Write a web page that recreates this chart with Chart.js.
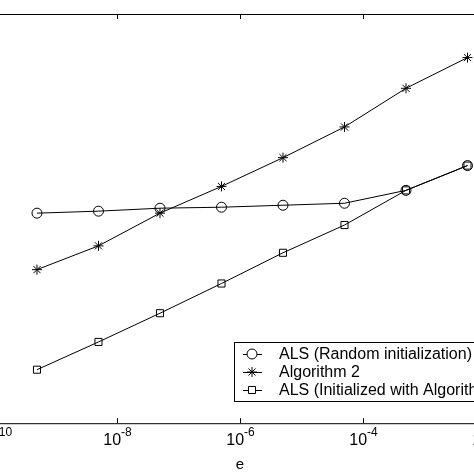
<!DOCTYPE html>
<html><head><meta charset="utf-8">
<script src="https://cdn.jsdelivr.net/npm/chart.js@4"></script>
<style>html,body{margin:0;padding:0;overflow:hidden;background:#fff;width:474px;height:474px}
#wrap{position:absolute;left:-60px;top:0;width:620px;height:474px}</style>
</head><body><div id="wrap"><canvas id="c"></canvas></div>
<script>
const eValues = [5e-10, 5e-9, 5e-8, 5e-7, 5e-6, 5e-5, 5e-4, 5e-3];
const alsRandom = [259, 261, 264, 265, 267, 269, 282, 307];
const algorithm2 = [202, 226, 259, 286, 315, 346, 385, 416];
const alsInit = [101, 129, 158, 188, 219, 247, 282, 307];
const xTicks = [1e-10, 1e-8, 1e-6, 1e-4, 1e-2];
const seriesLabels = ['ALS (Random initialization)', 'Algorithm 2', 'ALS (Initialized with Algorithm 2)'];
const FONT = '"Liberation Sans", Arial';
function mk(label, data, style, r){
  return {label, data: eValues.map((x,i)=>({x, y:data[i]})), borderColor:'#000', borderWidth:1,
    pointStyle:style, pointRadius:r, pointBackgroundColor:'rgba(0,0,0,0)', pointBorderColor:'#000', pointBorderWidth:1};
}
const frame = {id:'frame', afterDraw(ch){
  const {ctx, chartArea:a, scales:{x}} = ch;
  ctx.save(); ctx.strokeStyle='#000'; ctx.lineWidth=1;
  ctx.strokeRect(a.left+0.5, a.top+0.5, a.right-a.left, a.bottom-a.top);
  xTicks.forEach(t=>{const px=Math.round(x.getPixelForValue(t))+0.5;
    ctx.beginPath(); ctx.moveTo(px,a.bottom); ctx.lineTo(px,a.bottom-5);
    ctx.moveTo(px,a.top); ctx.lineTo(px,a.top+5); ctx.stroke();
    // tick label with superscript
    const exp = String(Math.round(Math.log10(t)));
    ctx.fillStyle='#000'; ctx.textBaseline='alphabetic';
    ctx.font='16px '+FONT; const bw=ctx.measureText('10').width;
    ctx.font='12px '+FONT; const ew=ctx.measureText(exp).width;
    const x0=px-(bw+ew)/2;
    ctx.font='16px '+FONT; ctx.fillText('10', x0, a.bottom+22);
    ctx.font='12px '+FONT; ctx.fillText(exp, x0+bw, a.bottom+13);
  });
  // legend
  const lx=294, ly=342, lw=320, lh=59;
  ctx.fillStyle='#fff'; ctx.fillRect(lx,ly,lw,lh); ctx.strokeRect(lx+0.5,ly+0.5,lw,lh);
  ctx.font='16px '+FONT; ctx.textBaseline='middle';
  ch.data.datasets.forEach((d,i)=>{const y=ly+12+i*18;
    ctx.beginPath(); ctx.moveTo(lx+9,y+0.5); ctx.lineTo(lx+28,y+0.5); ctx.stroke();
    ctx.fillStyle='#fff';
    Chart.helpers.drawPoint(ctx,{pointStyle:d.pointStyle,radius:d.pointRadius,borderWidth:1},lx+18,y);
    ctx.fillStyle='#000'; ctx.fillText(d.label, lx+45, y+1);});
  ctx.restore();
}};
new Chart(document.getElementById('c'), {
  type:'line',
  data:{datasets:[mk(seriesLabels[0],alsRandom,'circle',5), mk(seriesLabels[1],algorithm2,'star',5), mk(seriesLabels[2],alsInit,'rect',5)]},
  options:{responsive:true, maintainAspectRatio:false, animation:false,
    layout:{padding:{left:54, right:74, top:14, bottom:0}},
    plugins:{legend:{display:false}, tooltip:{enabled:false}},
    scales:{
      x:{type:'logarithmic', min:1e-10, max:1e-2,
        afterBuildTicks:(s)=>{s.ticks=xTicks.map(v=>({value:v}));},
        grid:{display:false}, border:{display:false},
        ticks:{color:'rgba(0,0,0,0)', font:{size:14, family:FONT}, maxRotation:0, padding:4,
          callback:(v)=>'10'+Math.round(Math.log10(v))},
        title:{display:true, text:'e', color:'#000', font:{size:15, family:FONT}, padding:{top:0,bottom:0}}},
      y:{display:false, min:47, max:460}
    }},
  plugins:[frame]
});
</script></body></html>
